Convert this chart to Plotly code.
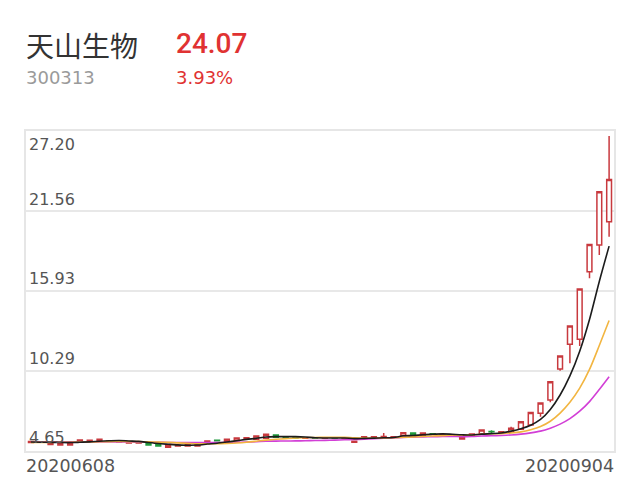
import plotly.graph_objects as go

stock_name = "天山生物"
stock_code = "300313"
last_price = "24.07"
change_pct = "3.93%"
date_labels = ["20200608", "20200904"]
y_ticks = [4.65, 10.29, 15.93, 21.56, 27.20]

day = list(range(60))
opens = [5.25, 5.27, 5.10, 5.08, 5.08, 5.40, 5.36, 5.35, 5.33, 5.28,
         5.22, 5.22, 5.19, 5.14, 4.91, 5.00, 5.00, 5.00, 5.23, 5.40,
         5.31, 5.38, 5.55, 5.47, 5.54, 5.78, 5.59, 5.59, 5.55, 5.57,
         5.56, 5.58, 5.56, 5.27, 5.54, 5.55, 5.57, 5.62, 5.71, 5.92,
         5.74, 5.86, 5.80, 5.77, 5.50, 5.71, 5.85, 6.03, 5.90, 5.97,
         6.18, 6.48, 7.31, 8.24, 10.43, 12.17, 12.52, 17.28, 19.16, 20.80]
closes = [5.32, 5.28, 5.22, 5.20, 5.20, 5.43, 5.40, 5.47, 5.36, 5.30,
          5.25, 5.25, 5.07, 5.00, 5.07, 5.03, 5.12, 5.12, 5.35, 5.37,
          5.47, 5.57, 5.58, 5.71, 5.83, 5.62, 5.58, 5.57, 5.57, 5.56,
          5.57, 5.57, 5.57, 5.33, 5.66, 5.66, 5.68, 5.66, 5.94, 5.78,
          5.92, 5.84, 5.82, 5.78, 5.60, 5.85, 6.13, 6.01, 6.01, 6.25,
          6.71, 7.36, 8.03, 9.53, 11.34, 13.46, 16.06, 19.21, 22.92, 23.79]
highs = [5.36, 5.31, 5.25, 5.23, 5.24, 5.47, 5.43, 5.50, 5.39, 5.33,
         5.28, 5.28, 5.22, 5.16, 5.09, 5.06, 5.14, 5.14, 5.38, 5.43,
         5.50, 5.60, 5.61, 5.74, 5.86, 5.80, 5.62, 5.62, 5.60, 5.60,
         5.60, 5.61, 5.60, 5.35, 5.68, 5.68, 5.92, 5.69, 5.96, 5.94,
         5.94, 5.92, 5.85, 5.81, 5.63, 5.88, 6.15, 6.12, 6.04, 6.36,
         6.73, 7.38, 8.05, 9.55, 11.36, 13.48, 16.08, 19.23, 22.94, 26.84]
lows = [5.22, 5.25, 5.07, 5.05, 5.05, 5.37, 5.33, 5.32, 5.30, 5.25,
        5.19, 5.19, 5.05, 4.98, 4.89, 4.97, 4.98, 4.98, 5.21, 5.34,
        5.29, 5.36, 5.52, 5.45, 5.52, 5.60, 5.55, 5.54, 5.53, 5.53,
        5.53, 5.54, 5.53, 5.25, 5.52, 5.53, 5.55, 5.60, 5.69, 5.76,
        5.72, 5.79, 5.78, 5.75, 5.48, 5.69, 5.83, 5.92, 5.88, 5.95,
        6.15, 6.45, 7.07, 8.08, 10.31, 10.83, 12.05, 16.82, 18.46, 19.75]
ma5 = [5.28, 5.27, 5.26, 5.25, 5.244, 5.266, 5.29, 5.34, 5.372, 5.392,
       5.356, 5.326, 5.246, 5.174, 5.128, 5.084, 5.058, 5.068, 5.138, 5.198,
       5.286, 5.376, 5.468, 5.54, 5.632, 5.662, 5.664, 5.662, 5.634, 5.58,
       5.57, 5.568, 5.568, 5.52, 5.54, 5.558, 5.58, 5.598, 5.72, 5.744,
       5.796, 5.828, 5.86, 5.828, 5.792, 5.778, 5.836, 5.874, 5.92, 6.05,
       6.222, 6.468, 6.872, 7.576, 8.594, 9.944, 11.684, 13.92, 16.598, 19.088]
ma10 = [5.26, 5.26, 5.26, 5.27, 5.27, 5.28, 5.29, 5.30, 5.31, 5.318,
        5.311, 5.308, 5.293, 5.273, 5.26, 5.22, 5.192, 5.157, 5.156, 5.163,
        5.185, 5.217, 5.268, 5.339, 5.415, 5.474, 5.52, 5.565, 5.587, 5.606,
        5.616, 5.616, 5.615, 5.577, 5.56, 5.564, 5.574, 5.583, 5.62, 5.642,
        5.677, 5.704, 5.729, 5.774, 5.768, 5.787, 5.832, 5.867, 5.874, 5.921,
        6.0, 6.152, 6.373, 6.748, 7.322, 8.083, 9.076, 10.396, 12.087, 13.841]
ma20 = [5.30, 5.30, 5.30, 5.29, 5.29, 5.29, 5.29, 5.29, 5.29, 5.28,
        5.28, 5.27, 5.27, 5.26, 5.25, 5.25, 5.24, 5.24, 5.24, 5.241,
        5.248, 5.263, 5.281, 5.306, 5.338, 5.347, 5.356, 5.361, 5.372, 5.385,
        5.401, 5.417, 5.442, 5.458, 5.488, 5.519, 5.547, 5.574, 5.604, 5.624,
        5.647, 5.66, 5.672, 5.676, 5.664, 5.676, 5.703, 5.725, 5.747, 5.782,
        5.839, 5.928, 6.051, 6.261, 6.545, 6.935, 7.454, 8.132, 8.981, 9.881]

RED = "#c8393e"
GREEN = "#1f9a3c"
NUM_FONT = "DejaVu Sans"

fig = go.Figure()
fig.add_trace(go.Candlestick(
    x=day, open=opens, high=highs, low=lows, close=closes,
    increasing=dict(line=dict(color=RED, width=1.5), fillcolor="white"),
    decreasing=dict(line=dict(color=GREEN, width=1.5), fillcolor=GREEN),
    whiskerwidth=0, showlegend=False, hoverinfo="skip",
))
for vals, col in [(ma20, "#d23fd6"), (ma10, "#f2b540"), (ma5, "#1c1c1c")]:
    fig.add_trace(go.Scatter(
        x=day, y=vals, mode="lines",
        line=dict(color=col, width=1.6, shape="spline", smoothing=0.8),
        showlegend=False, hoverinfo="skip",
    ))

annotations = []
# y-axis labels inside the plot
for v in y_ticks:
    top = v == max(y_ticks)
    bottom = v == min(y_ticks)
    annotations.append(dict(
        x=0, xref="paper", y=v, yref="y", text=f"{v:.2f}",
        xanchor="left", yanchor="middle", xshift=1,
        yshift=-13 if top else (14 if bottom else 12), showarrow=False,
        font=dict(family=NUM_FONT, size=16, color="#555555"),
    ))
# date labels
annotations.append(dict(x=0, xref="paper", y=-0.048, yref="paper", text=date_labels[0],
                        xanchor="left", yanchor="middle", showarrow=False, xshift=-2,
                        font=dict(family=NUM_FONT, size=17.5, color="#555555")))
annotations.append(dict(x=1, xref="paper", y=-0.048, yref="paper", text=date_labels[1],
                        xanchor="right", yanchor="middle", showarrow=False, xshift=2,
                        font=dict(family=NUM_FONT, size=17.5, color="#555555")))
# header
annotations.append(dict(x=0, xref="paper", y=(451 - 45) / 320, yref="paper", text=stock_name,
                        xanchor="left", yanchor="middle", showarrow=False, xshift=-2,
                        font=dict(family="Noto Sans CJK SC", size=28, color="#333333")))
annotations.append(dict(x=(176 - 26) / 588, xref="paper", y=(451 - 44) / 320, yref="paper",
                        text=last_price, xanchor="left", yanchor="middle", showarrow=False, xshift=-2,
                        font=dict(family="Roboto", size=28, color="#e03232", weight=500)))
annotations.append(dict(x=0, xref="paper", y=(451 - 77) / 320, yref="paper", text=stock_code,
                        xanchor="left", yanchor="middle", showarrow=False, xshift=-2,
                        font=dict(family=NUM_FONT, size=18, color="#9a9a9a")))
annotations.append(dict(x=(176 - 26) / 588, xref="paper", y=(451 - 77) / 320, yref="paper",
                        text=change_pct, xanchor="left", yanchor="middle", showarrow=False, xshift=-2,
                        font=dict(family=NUM_FONT, size=18, color="#e03232")))

# page body has an 8px default margin, so plot area offsets compensate for it
fig.update_layout(
    width=632, height=472,
    margin=dict(l=18, r=26, t=123, b=29),
    paper_bgcolor="white", plot_bgcolor="white",
    annotations=annotations,
    xaxis=dict(range=[-0.5, 59.5], showgrid=False, zeroline=False, showticklabels=False,
               ticks="", showline=True, linecolor="#e6e6e6", linewidth=2, mirror=True,
               rangeslider=dict(visible=False), fixedrange=True),
    yaxis=dict(range=[y_ticks[0], y_ticks[-1]], tickvals=y_ticks, showticklabels=False,
               ticks="", showgrid=True, gridcolor="#e8e8e8", gridwidth=1.5, zeroline=False,
               showline=True, linecolor="#e6e6e6", linewidth=2, mirror=True, fixedrange=True),
)

fig.write_html("out.html")
